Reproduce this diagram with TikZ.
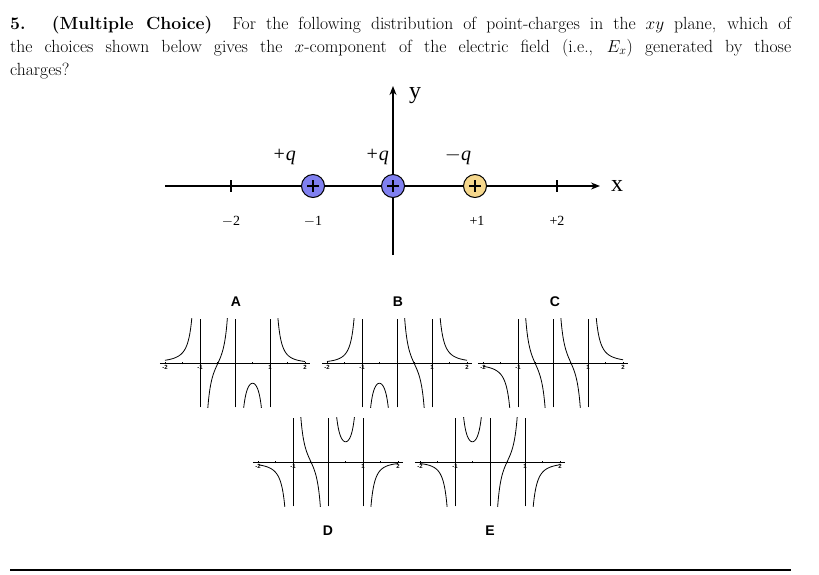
\documentclass[tikz,border=0pt]{standalone}
\usepackage{fontspec}
\setmainfont{Latin Modern Roman}
\newfontfamily\timesf{Liberation Serif}
\newfontfamily\arialf{Liberation Sans}
\usetikzlibrary{arrows.meta}
\definecolor{qblue}{RGB}{128,128,240}
\definecolor{qyel}{RGB}{245,215,140}
\tikzset{
  charge/.style={circle,draw,line width=1pt,minimum size=23pt,inner sep=0pt},
  qlabel/.style={font=\timesf\itshape\fontsize{20}{20}\selectfont},
  numlabel/.style={font=\timesf\fontsize{14}{14}\selectfont},
  gtitle/.style={font=\arialf\bfseries\fontsize{14}{14}\selectfont},
  curve/.style={line width=0.8pt},
  gaxis/.style={line width=0.8pt},
  tlab/.style={font=\arialf\bfseries\fontsize{6}{6}\selectfont,inner sep=1pt}
}
\newcommand{\graphE}[5]{%
\begin{scope}[shift={(#1,#2)},x=35pt,y=2.4pt]
 \draw[gaxis] (-2.15,0) -- (2.15,0);
 \foreach \t in {-2,-1.5,...,2} \draw[line width=0.4pt] (\t,-0.6) -- (\t,0.6);
 \foreach \t in {-1,0,1} \draw[gaxis] (\t,-18.5) -- (\t,18.5);
 \node[tlab,below] at (-2,-0.5) {-2};
 \node[tlab,below] at (-1,-0.5) {-1};
 \node[tlab,below] at (1,-0.5) {1};
 \node[tlab,below] at (2,-0.5) {2};
 \begin{scope}
 \clip (-2.1,-18.5) rectangle (2.1,18.5);
 \foreach \a/\b in {-2/-1.07,-0.93/-0.07,0.07/0.93,1.07/2}
  \draw[curve,samples=60,domain=\a:\b,smooth] plot (\x,{#3*sign(\x+1)/((\x+1)^2)+#4*sign(\x)/((\x)^2)+#5*sign(\x-1)/((\x-1)^2)});
 \end{scope}
\end{scope}}
\begin{document}
\begin{tikzpicture}[x=1pt,y=-1pt]
\useasboundingbox[fill=white] (0,0) rectangle (819,574);
\node[anchor=north west,text width=781pt,align=justify,inner sep=0pt,font=\fontsize{17.6}{23}\selectfont] (txt) at (10,16)
{\textbf{5. (Multiple Choice)}\ \ For the following distribution of point-charges in the $xy$ plane, which of\linebreak the choices shown below gives the $x$-component of the electric field (i.e., $E_x$) generated by those\linebreak charges?};
% charge diagram
\coordinate (xl) at (165,186);
\coordinate (xr) at (600,186);
\coordinate (yb) at (393,255);
\coordinate (yt) at (393,86);
\draw[line width=1.3pt,-{Stealth[length=9pt,width=7pt]}] (xl) -- (xr);
\draw[line width=1.3pt,-{Stealth[length=9pt,width=7pt]}] (yb) -- (yt);
\node[font=\timesf\fontsize{24}{24}\selectfont] (ylab) at (415,96) {y};
\node[font=\timesf\fontsize{24}{24}\selectfont] (xlab) at (617,186) {x};
\foreach \px/\lab in {231/{$-$2},557/+2}{
 \draw[line width=1.2pt] (\px,180) -- (\px,192);
 \node[numlabel] at (\px,221) {\lab};}
\node[numlabel] (m1) at (313,221) {$-$1};
\node[numlabel] (p1) at (477,221) {+1};
\node[charge,fill=qblue] (c1) at (313,186) {};
\node[charge,fill=qblue] (c2) at (393,186) {};
\node[charge,fill=qyel] (c3) at (475,186) {};
\foreach \c in {c1,c2,c3}{
 \draw[line width=1.1pt] ([xshift=-6pt]\c.center) -- ([xshift=6pt]\c.center);
 \draw[line width=1.1pt] ([yshift=-6pt]\c.center) -- ([yshift=6pt]\c.center);}
\node[qlabel] (l1) at (284,157) {+q};
\node[qlabel] (l2) at (377,157) {+q};
\node[qlabel] (l3) at (458,157) {$-$q};
% graphs
\node[gtitle] (tA) at (236,302) {A};
\node[gtitle] (tB) at (398,302) {B};
\node[gtitle] (tC) at (555,302) {C};
\node[gtitle] (tD) at (328,531) {D};
\node[gtitle] (tE) at (490,531) {E};
\graphE{235}{363}{-1}{-1}{1}
\graphE{397}{363}{-1}{1}{1}
\graphE{553}{363}{1}{1}{1}
\graphE{328}{462}{1}{1}{-1}
\graphE{490}{462}{1}{-1}{-1}
\coordinate (r1) at (10,570);
\coordinate (r2) at (791,570);
\draw[line width=1.8pt] (r1) -- (r2);
\end{tikzpicture}
\end{document}
